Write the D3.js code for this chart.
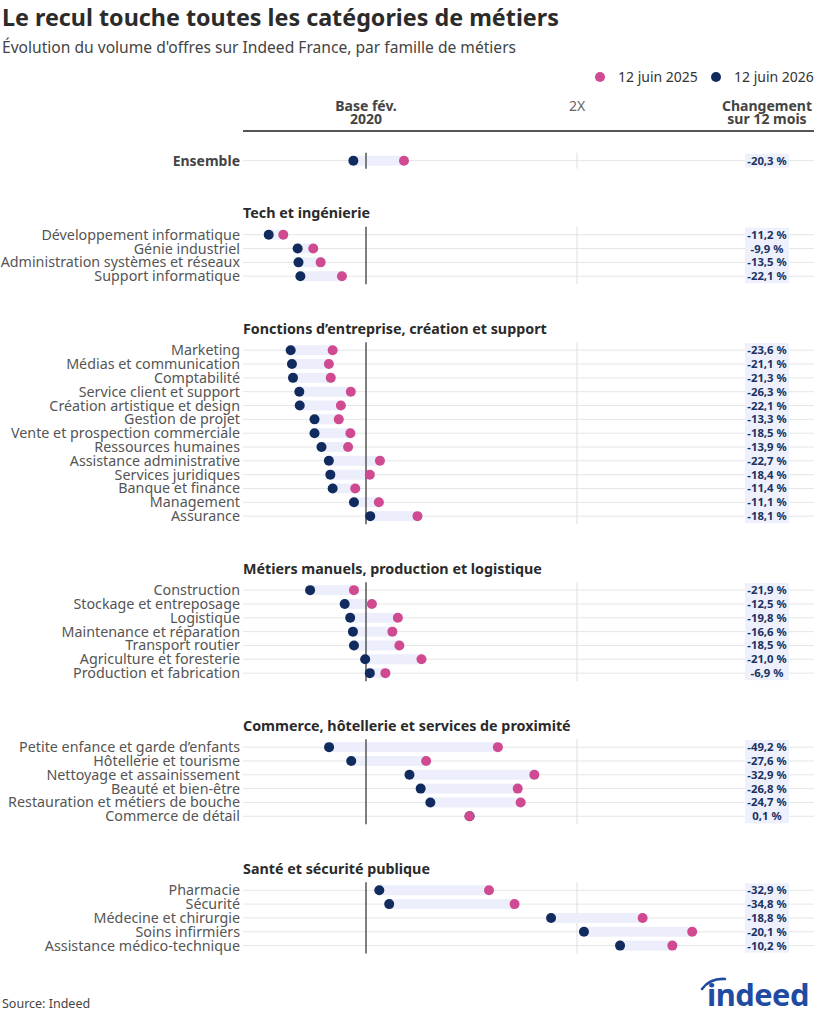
<!DOCTYPE html>
<html>
<head>
<meta charset="utf-8">
<script src="https://cdn.jsdelivr.net/npm/d3@7"></script>
<style>
  html, body { margin: 0; padding: 0; background: #fff; }
  svg { display: block; font-family: "Noto Sans", "Open Sans", sans-serif; }
</style>
</head>
<body>
<svg id="chart" width="838" height="1024"></svg>
<script>
// ---- Data (index, février 2020 = 100) ----
const headings = [
  "",
  "Tech et ingénierie",
  "Fonctions d’entreprise, création et support",
  "Métiers manuels, production et logistique",
  "Commerce, hôtellerie et services de proximité",
  "Santé et sécurité publique"
];
const categories = [
  "Ensemble",
  "Développement informatique", "Génie industriel", "Administration systèmes et réseaux", "Support informatique",
  "Marketing", "Médias et communication", "Comptabilité", "Service client et support", "Création artistique et design",
  "Gestion de projet", "Vente et prospection commerciale", "Ressources humaines", "Assistance administrative",
  "Services juridiques", "Banque et finance", "Management", "Assurance",
  "Construction", "Stockage et entreposage", "Logistique", "Maintenance et réparation", "Transport routier",
  "Agriculture et foresterie", "Production et fabrication",
  "Petite enfance et garde d’enfants", "Hôtellerie et tourisme", "Nettoyage et assainissement",
  "Beauté et bien-être", "Restauration et métiers de bouche", "Commerce de détail",
  "Pharmacie", "Sécurité", "Médecine et chirurgie", "Soins infirmiers", "Assistance médico-technique"
];
const groupIndex = [
  0,
  1, 1, 1, 1,
  2, 2, 2, 2, 2, 2, 2, 2, 2, 2, 2, 2, 2,
  3, 3, 3, 3, 3, 3, 3,
  4, 4, 4, 4, 4, 4,
  5, 5, 5, 5, 5
];
const values2025 = [
  118.0,
  60.8, 75.0, 78.5, 88.6,
  84.2, 82.4, 83.3, 92.8, 88.1, 87.1, 92.6, 91.5, 106.6, 101.8, 94.9, 106.1, 124.4,
  94.3, 102.8, 115.1, 112.5, 115.8, 126.3, 109.2,
  162.5, 128.5, 179.8, 171.9, 173.3, 149.0,
  158.3, 170.4, 231.1, 254.6, 245.2
];
const values2026 = [
  94.0,
  53.9, 67.6, 68.0, 68.9,
  64.3, 64.9, 65.4, 68.4, 68.6, 75.6, 75.6, 78.9, 82.4, 83.1, 84.2, 94.3, 102.0,
  73.5, 89.9, 92.5, 93.8, 94.3, 99.6, 101.8,
  82.5, 93.0, 120.6, 125.9, 130.5, 149.1,
  106.3, 111.0, 187.7, 203.3, 220.4
];
const changes = [
  -20.3,
  -11.2, -9.9, -13.5, -22.1,
  -23.6, -21.1, -21.3, -26.3, -22.1, -13.3, -18.5, -13.9, -22.7, -18.4, -11.4, -11.1, -18.1,
  -21.9, -12.5, -19.8, -16.6, -18.5, -21.0, -6.9,
  -49.2, -27.6, -32.9, -26.8, -24.7, 0.1,
  -32.9, -34.8, -18.8, -20.1, -10.2
];
const seriesLabels = ["12 juin 2025", "12 juin 2026"];
const axisTickValues = [100, 200];
const axisTickLabels = ["Base fév.\n2020", "2X"];

// ---- Styles ----
const PINK = "#cf4a91";
const NAVY = "#112b5e";
const BAND = "#eceffb";
const COLBG = "#eef0fb";

const svg = d3.select("#chart");
const fr = d3.formatLocale({decimal: ",", thousands: "\u00a0", grouping: [3], currency: ["", " €"]});
const fmt = v => fr.format(".1f")(v).replace("−", "-") + " %";

const x = d3.scaleLinear().domain([100, 200]).range([366, 577]);
const plotLeft = 243, plotRight = 814, colCenter = 767;

// ---- Vertical layout ----
const rowStep = 13.83, headToRow = 21.6, rowToHead = 52.4;
const rows = categories.map((c, i) => ({
  label: c, g: groupIndex[i], v25: values2025[i], v26: values2026[i], ch: changes[i]
}));
let yCur = 160.7;
const groups = headings.map((h, gi) => ({name: h, rows: []}));
rows.forEach((r, i) => {
  if (i > 0 && r.g !== rows[i - 1].g) {
    groups[r.g].headY = yCur + rowToHead;
    yCur = groups[r.g].headY + headToRow;
  } else if (i > 0) {
    yCur += rowStep;
  }
  r.y = yCur;
  groups[r.g].rows.push(r);
});

// ---- Title ----
svg.append("text").attr("x", 2).attr("y", 26)
  .attr("font-size", 23.3).attr("font-weight", 700).attr("fill", "#2b2b2b")
  .text("Le recul touche toutes les catégories de métiers");
svg.append("text").attr("x", 2).attr("y", 53)
  .attr("font-size", 15.6).attr("fill", "#444")
  .text("Évolution du volume d'offres sur Indeed France, par famille de métiers");

// ---- Legend ----
const legend = svg.append("g");
[[600, PINK, 618, seriesLabels[0]], [716, NAVY, 734, seriesLabels[1]]].forEach(([cx, col, tx, t]) => {
  legend.append("circle").attr("cx", cx).attr("cy", 77).attr("r", 5).attr("fill", col);
  legend.append("text").attr("x", tx).attr("y", 82).attr("font-size", 14).attr("fill", "#333").text(t);
});

// ---- Header ----
axisTickValues.forEach((v, i) => {
  const lines = axisTickLabels[i].split("\n");
  const t = svg.append("text").attr("text-anchor", "middle")
    .attr("font-size", 14).attr("fill", i === 0 ? "#444" : "#666")
    .attr("font-weight", i === 0 ? 700 : 400);
  lines.forEach((ln, k) => t.append("tspan").attr("x", x(v)).attr("y", 111 + k * 13).text(ln));
});
const hc = svg.append("text").attr("text-anchor", "middle").attr("font-size", 14)
  .attr("font-weight", 700).attr("fill", "#444");
hc.append("tspan").attr("x", colCenter).attr("y", 111).text("Changement");
hc.append("tspan").attr("x", colCenter).attr("y", 124).text("sur 12 mois");
svg.append("line").attr("x1", plotLeft).attr("x2", plotRight).attr("y1", 131).attr("y2", 131)
  .attr("stroke", "#555").attr("stroke-width", 2);

// ---- Groups ----
groups.forEach((g, gi) => {
  const gg = svg.append("g");
  const y0 = g.rows[0].y, y1 = g.rows[g.rows.length - 1].y;
  if (g.name) {
    gg.append("text").attr("x", plotLeft).attr("y", g.headY + 5)
      .attr("font-size", 14.3).attr("font-weight", 700).attr("fill", "#2b2b2b").text(g.name);
  }
  // row gridlines
  gg.selectAll("line.grid").data(g.rows).join("line")
    .attr("x1", plotLeft).attr("x2", plotRight).attr("y1", d => d.y).attr("y2", d => d.y)
    .attr("stroke", "#e6e6e6").attr("stroke-width", 1);
  // 2X vertical gridline
  gg.append("line").attr("x1", x(200)).attr("x2", x(200)).attr("y1", y0 - 8).attr("y2", y1 + 8)
    .attr("stroke", "#dedede").attr("stroke-width", 1);
  // change column background
  gg.append("rect").attr("x", 745).attr("width", 44).attr("y", y0 - 7).attr("height", y1 - y0 + 14)
    .attr("fill", COLBG);
  // bands
  gg.selectAll("rect.band").data(g.rows).join("rect")
    .attr("x", d => x(Math.min(d.v25, d.v26))).attr("width", d => Math.abs(x(d.v25) - x(d.v26)))
    .attr("y", d => d.y - 5).attr("height", 10).attr("fill", BAND);
  // base line
  gg.append("line").attr("x1", x(100)).attr("x2", x(100)).attr("y1", y0 - 8).attr("y2", y1 + 8)
    .attr("stroke", "#555").attr("stroke-width", 1.5);
  // dots
  gg.selectAll("circle.n").data(g.rows).join("circle")
    .attr("cx", d => x(d.v26)).attr("cy", d => d.y).attr("r", 5).attr("fill", NAVY);
  gg.selectAll("circle.p").data(g.rows).join("circle")
    .attr("cx", d => x(d.v25)).attr("cy", d => d.y).attr("r", 5).attr("fill", PINK);
  // labels
  gg.selectAll("text.lab").data(g.rows).join("text")
    .attr("x", 240).attr("y", d => d.y + 5).attr("text-anchor", "end")
    .attr("font-size", gi === 0 ? 14 : 14.3)
    .attr("font-weight", gi === 0 ? 700 : 400)
    .attr("fill", gi === 0 ? "#444" : "#555")
    .text(d => d.label);
  // change values
  gg.selectAll("text.val").data(g.rows).join("text")
    .attr("x", colCenter).attr("y", d => d.y + 4).attr("text-anchor", "middle")
    .attr("font-size", 11.3).attr("font-weight", 700).attr("fill", "#1b3264")
    .text(d => fmt(d.ch));
});

// ---- Footer ----
svg.append("text").attr("x", 2).attr("y", 1008).attr("font-size", 12.5).attr("fill", "#444")
  .text("Source: Indeed");
const logo = svg.append("g");
logo.append("text").attr("x", 707).attr("y", 1006).attr("font-size", 31).attr("font-weight", 700)
  .attr("fill", "#1f4ba3").attr("textLength", 102).attr("lengthAdjust", "spacingAndGlyphs")
  .attr("letter-spacing", -0.5).text("indeed");
logo.append("path").attr("d", "M702,989 Q710,978 725,979")
  .attr("fill", "none").attr("stroke", "#1f4ba3").attr("stroke-width", 2.6).attr("stroke-linecap", "round");
</script>
</body>
</html>
